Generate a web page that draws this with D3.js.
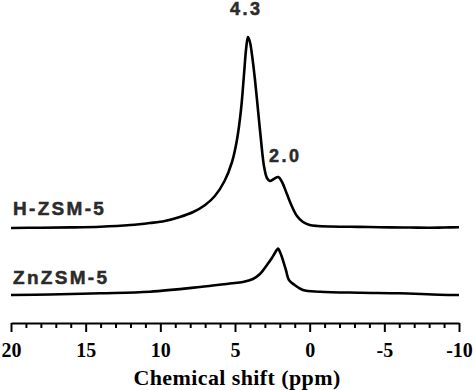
<!DOCTYPE html>
<html>
<head>
<meta charset="utf-8">
<script src="https://cdn.jsdelivr.net/npm/d3@7/dist/d3.min.js"></script>
<style>
    body { margin: 0; background: #fff; }
    svg { display: block; }
</style>
</head>
<body>
<div id="chart"></div>
<script>
// chemical shift (ppm) and intensity above each spectrum's own baseline
var hzsmShift = [20, 18, 16, 14, 12, 10.7, 9.7, 8.7, 7.8, 7.0, 6.35, 5.7, 5.2, 4.87, 4.6, 4.4, 4.25, 4.13,
    4.0, 3.86, 3.66, 3.46, 3.26, 3.06, 2.86, 2.66, 2.4, 2.1, 1.85, 1.55, 1.2, 0.85, 0.45, 0,
    -0.55, -1.35, -2.7, -4.0, -5.4, -6.7, -8.0, -9.0, -10];
var hzsmInt = [0, 0.3, 0.6, 1.3, 3, 5, 7, 11, 16, 23, 32, 47, 66, 88, 118, 153, 180, 191,
    186, 173, 148, 118, 88, 62, 50, 47, 49, 51, 46, 35, 22, 12, 6, 3,
    2, 1.5, 1.2, 1, 0.6, 0.5, 0.3, 0.5, 0.7];

var znShift = [20, 17.4, 14, 10.7, 7.35, 5.34, 4.47, 3.8, 3.33, 2.86, 2.53, 2.33, 2.12, 1.99, 1.86,
    1.59, 1.39, 1.0, 0.45, -0.7, -3.4, -6.0, -8.7, -10];
var znInt = [0, 0.5, 1.7, 3.3, 8, 11.5, 13, 16, 21, 30, 37, 42, 46.5, 43, 38,
    25, 15, 10, 5, 3.3, 2.3, 1.7, 0.3, 0];

var seriesNames = ["H-ZSM-5", "ZnZSM-5"];
var seriesOffsets = [95, 28];

var peakLabels = ["4.3", "2.0"];
var peakLabelShift = [5.34, 2.73];
var peakLabelInt = [213, 66];

var xTicks = [20, 15, 10, 5, 0, -5, -10];

var width = 474, height = 390;
var sans = "'Liberation Sans', Arial, sans-serif";
var serif = "'Liberation Serif', 'Times New Roman', serif";

var svg = d3.select("#chart").append("svg")
    .attr("width", width)
    .attr("height", height);

var x = d3.scaleLinear().domain([20, -10]).range([11, 459]);
var y = d3.scaleLinear().domain([0, 300]).range([323, 23]);

var line = d3.line()
    .x(function (d) { return x(d[0]); })
    .y(function (d) { return y(d[1]); })
    .curve(d3.curveCatmullRom.alpha(0.5));

var spectra = [
    d3.zip(hzsmShift, hzsmInt),
    d3.zip(znShift, znInt)
];

spectra.forEach(function (pts, i) {
    var shifted = pts.map(function (p) { return [p[0], p[1] + seriesOffsets[i]]; });
    svg.append("path")
        .attr("d", line(shifted))
        .attr("fill", "none")
        .attr("stroke", "#000")
        .attr("stroke-width", 2.6)
        .attr("stroke-linejoin", "round");
});

function labelStyle(sel, size, spacing) {
    sel.style("font-family", sans)
        .style("font-weight", "700")
        .style("font-size", size + "px")
        .style("letter-spacing", spacing + "px")
        .style("fill", "#2b2b2b")
        .style("stroke", "#2b2b2b")
        .style("stroke-width", "0.5px");
}

// series names
var nameY = [215, 284];
svg.selectAll(".name")
    .data(seriesNames)
    .enter()
    .append("text")
    .attr("x", 13)
    .attr("y", function (d, i) { return nameY[i]; })
    .call(labelStyle, 19, 2.3)
    .text(function (d) { return d; });

// peak labels
svg.selectAll(".peak")
    .data(peakLabels)
    .enter()
    .append("text")
    .attr("x", function (d, i) { return x(peakLabelShift[i]); })
    .attr("y", function (d, i) { return y(peakLabelInt[i] + seriesOffsets[0]); })
    .call(labelStyle, 18, 2.5)
    .text(function (d) { return d; });

// x axis
var axisG = svg.append("g").attr("transform", "translate(0," + y(0) + ")");

axisG.append("g")
    .call(d3.axisBottom(x)
        .tickValues(d3.range(-10, 21, 1).filter(function (v) { return v % 5 !== 0; }))
        .tickSize(5)
        .tickFormat(""))
    .call(function (g) { g.select(".domain").remove(); })
    .selectAll("line").attr("stroke", "#000").attr("stroke-width", 2);

var major = axisG.append("g")
    .call(d3.axisBottom(x)
        .tickValues(xTicks)
        .tickSize(9)
        .tickSizeOuter(0)
        .tickPadding(11)
        .tickFormat(d3.format("d")));

major.select(".domain").attr("stroke", "#000").attr("stroke-width", 2.2);
major.selectAll("line").attr("stroke", "#000").attr("stroke-width", 2);
major.selectAll("text")
    .style("font-family", serif)
    .style("font-weight", "700")
    .style("font-size", "20px")
    .style("fill", "#000")
    .text(function (d) { return d < 0 ? "-" + Math.abs(d) : d; });

svg.append("text")
    .attr("x", 237)
    .attr("y", 385)
    .attr("text-anchor", "middle")
    .style("font-family", serif)
    .style("font-weight", "700")
    .style("font-size", "22px")
    .style("letter-spacing", "0.4px")
    .text("Chemical shift (ppm)");
</script>
</body>
</html>
